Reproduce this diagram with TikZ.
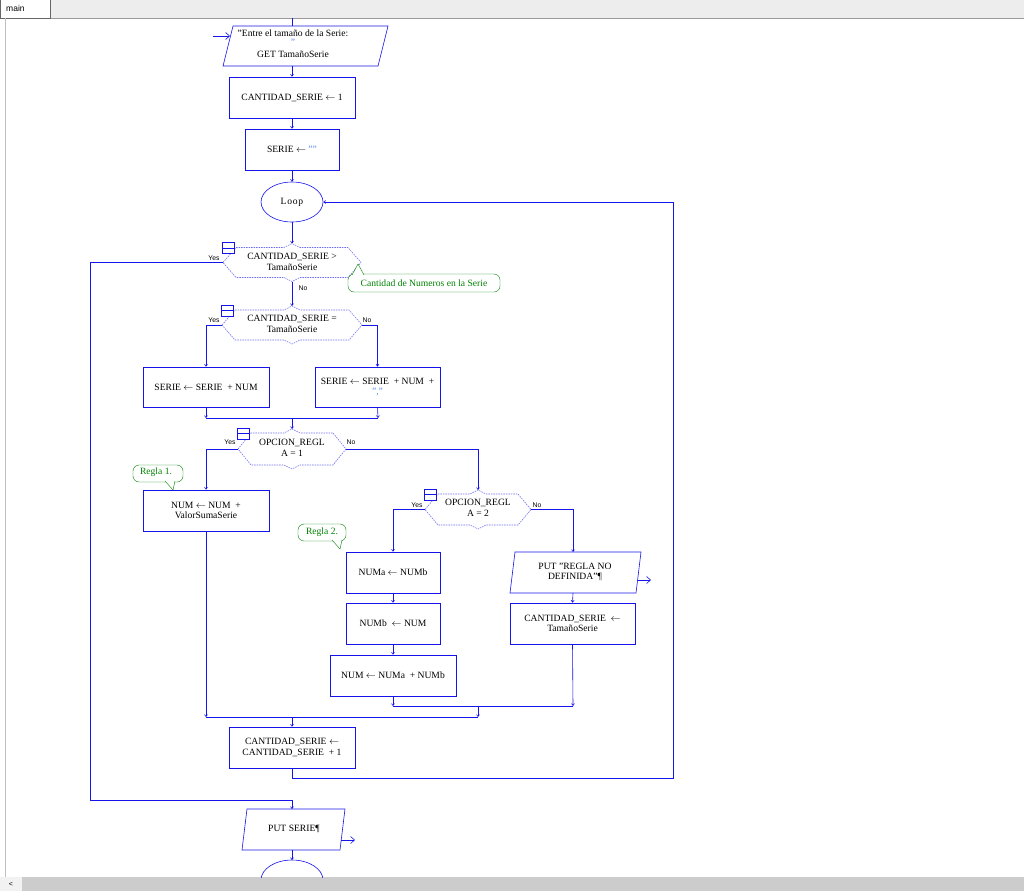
\documentclass[tikz,border=0pt]{standalone}
\usepackage{fontspec}
\setmainfont{Liberation Serif}
\newfontfamily\uisans{Liberation Sans}
\usetikzlibrary{arrows.meta,calc,shapes.geometric}
\definecolor{fl}{RGB}{20,20,235}
\definecolor{fldash}{RGB}{110,110,245}
\definecolor{cmt}{RGB}{0,130,0}
\definecolor{lit}{RGB}{90,140,240}
\tikzset{
  x=1pt,y=-1pt,
  every node/.style={font=\fontsize{9.6}{10.5}\selectfont, align=center, inner sep=0pt},
  box/.style={draw=fl, semithick, fill=white},
  wire/.style={draw=fl, semithick},
  arr/.style={wire, -{Straight Barb[length=2pt,width=3pt]}},
  dec/.style={draw=fldash, semithick, dash pattern=on 1.5pt off 1pt, fill=white},
  yn/.style={font=\uisans\fontsize{6.8}{7}\selectfont, text=black},
  note/.style={draw=cmt, thin, rounded corners=6pt, fill=white},
  icon/.style={draw=fl, thin, fill=white},
}
% hexagon decision: #1 name, #2 center x, #3 center y, #4 half width, #5 half height
\newcommand{\decis}[5]{%
  \draw[dec] (#2-#4,#3) -- (#2-#4+13,#3-#5) -- (#2-8,#3-#5) -- (#2,#3-#5-4) -- (#2+8,#3-#5)
    -- (#2+#4-13,#3-#5) -- (#2+#4,#3) -- (#2+#4-13,#3+#5) -- (#2+8,#3+#5) -- (#2,#3+#5+4)
    -- (#2-8,#3+#5) -- (#2-#4+13,#3+#5) -- cycle;
  \coordinate (#1) at (#2,#3);
  \coordinate (#1-w) at (#2-#4,#3);
  \coordinate (#1-e) at (#2+#4,#3);
  \coordinate (#1-n) at (#2,#3-#5-4);
  \coordinate (#1-s) at (#2,#3+#5+4);
  \draw[icon] (#2-#4-1,#3-#5-5) rectangle (#2-#4+11,#3-#5+6);
  \draw[fl,thin] (#2-#4-1,#3-#5+0.5) -- (#2-#4+11,#3-#5+0.5);}
\begin{document}
\begin{tikzpicture}
\useasboundingbox (0,0) rectangle (1024,891);
% window chrome
\fill[white] (0,0) rectangle (1024,891);
\fill[black!7] (0,0) rectangle (1024,18);
\draw[black!40] (0,18) -- (1024,18);
\draw[black!60, fill=white] (0,-1) rectangle (50,18);
\node[font=\uisans\fontsize{8.5}{9}\selectfont, anchor=west] (tab) at (6,8) {main};
\draw[black!25] (5,18) -- (5,877);
\fill[black!20] (0,877) rectangle (1024,891);
\fill[black!5] (0,877) rectangle (22,891);
\node[font=\uisans\fontsize{7}{8}\selectfont] (sl) at (11,884) {<};

% top input
\draw[box] (233,26) -- (388,26) -- (378,66) -- (223,66) -- cycle;
\node (in) at (293,44) {"Entre el tamaño de la Serie:\\[-2pt] \textcolor{lit}{"}\\[2pt] GET TamañoSerie};
\coordinate (intop) at (292,18);
\coordinate (inb) at (292,66);
\coordinate (inL) at (213,36);
\draw[wire] (intop) -- (292,26);
\draw[wire,-{Straight Barb[length=4pt,width=7pt]}] (inL) -- (230,36);

\node[box, minimum width=126pt, minimum height=41pt] (c1) at (292,97.5) {CANTIDAD\_SERIE $\leftarrow$ 1};
\node[box, minimum width=94pt, minimum height=41pt] (s1) at (292,149.5) {SERIE $\leftarrow$ \textcolor{lit}{""}};
\node[draw=fl, semithick, ellipse, minimum width=62pt, minimum height=40pt, fill=white, font=\fontsize{9.6}{10}\selectfont\addfontfeature{LetterSpace=8}] (loop) at (292,202) {Loop};
\draw[arr] (inb) -- (c1.north);
\draw[arr] (c1.south) -- (s1.north);
\draw[arr] (s1.south) -- (loop.north);

% decision 1
\decis{d1}{292}{262.5}{69}{15}
\node (d1t) at (292,262) {CANTIDAD\_SERIE >\\TamañoSerie};
\draw[arr] (loop.south) -- (d1-n);
\node[yn] (y1) at (214,258) {Yes};
\node[yn] (n1) at (303,288) {No};
\draw[note] (348,274) rectangle (500,292);
\draw[cmt,thin,fill=white] (352,275) -- (358,264) -- (364,275);
\node[text=cmt] (nt1) at (424,283) {Cantidad de Numeros en la Serie};

% decision 2
\decis{d2}{292}{325}{70}{15}
\node (d2t) at (292,324) {CANTIDAD\_SERIE =\\TamañoSerie};
\draw[arr] (d1-s) -- (d2-n);
\node[yn] (y2) at (214,320) {Yes};
\node[yn] (n2) at (367,320) {No};
\node[box, minimum width=126pt, minimum height=40pt] (sa) at (206,387) {SERIE $\leftarrow$ SERIE \ + NUM};
\node[box, minimum width=125pt, minimum height=40pt] (sb) at (377.5,387) {SERIE $\leftarrow$ SERIE \ + NUM \ +\\[-1pt]\textcolor{lit}{","}};
\draw[arr] (d2-w) -| (sa.north);
\draw[arr] (d2-e) -| (sb.north);
\coordinate (m2) at (292,418);
\draw[arr] (sa.south) -- (206,418);
\draw[arr] (sb.south) -- (378,418);
\draw[wire] (206,418) -- (378,418);

% decision 3
\decis{d3}{292}{449}{54}{16}
\node (d3t) at (292,448) {OPCION\_REGL\\A = 1};
\draw[arr] (m2) -- (d3-n);
\node[yn] (y3) at (230,442) {Yes};
\node[yn] (n3) at (351,442) {No};
\node[box, minimum width=126pt, minimum height=41pt] (r1) at (206,510.5) {NUM $\leftarrow$ NUM \ +\\ValorSumaSerie};
\draw[arr] (d3-w) -| (r1.north);
\draw[note] (133,465) rectangle (183,482);
\draw[cmt,thin,fill=white] (165,481) -- (173,490) -- (175,481);
\node[text=cmt] (nt2) at (156,472) {Regla 1.};

% decision 4
\decis{d4}{478}{509.5}{53}{15.5}
\node (d4t) at (478,508) {OPCION\_REGL\\A = 2};
\draw[arr] (d3-e) -| (d4-n);
\node[yn] (y4) at (417,505) {Yes};
\node[yn] (n4) at (537,505) {No};
\node[box, minimum width=94pt, minimum height=41pt] (a1) at (393,572.5) {NUMa $\leftarrow$ NUMb};
\node[box, minimum width=94pt, minimum height=41pt] (a2) at (393,623.5) {NUMb \ $\leftarrow$ NUM};
\node[box, minimum width=126pt, minimum height=41pt] (a3) at (393,675.5) {NUM $\leftarrow$ NUMa \ + NUMb};
\draw[arr] (d4-w) -| (a1.north);
\draw[arr] (a1.south) -- (a2.north);
\draw[arr] (a2.south) -- (a3.north);
\draw[note] (298,524) rectangle (346,541);
\draw[cmt,thin,fill=white] (332,540) -- (340,549) -- (342,540);
\node[text=cmt] (nt3) at (322,532) {Regla 2.};

\draw[box] (515,552) -- (641,552) -- (636,593) -- (510,593) -- cycle;
\node (p1) at (575,572) {PUT "REGLA NO\\DEFINIDA"¶};
\draw[wire,-{Straight Barb[length=4pt,width=7pt]}] (638,580) -- (651,580);
\node[box, minimum width=125pt, minimum height=41pt] (p2) at (572.5,623.5) {CANTIDAD\_SERIE \ $\leftarrow$\\TamañoSerie};
\draw[arr] (d4-e) -| (573,552);
\draw[arr] (573,593) -- (p2.north);

% merges
\draw[arr] (a3.south) -- (393,706);
\draw[arr] (p2.south) -- (573,706);
\draw[wire] (393,706) -- (573,706);
\draw[arr] (478,706) -- (478,717);
\draw[arr] (r1.south) -- (206,717);
\draw[wire] (206,717) -- (478,717);
\node[box, minimum width=126pt, minimum height=41pt] (inc) at (292,747.5) {CANTIDAD\_SERIE $\leftarrow$\\CANTIDAD\_SERIE \ + 1};
\draw[arr] (292,717) -- (inc.north);
\coordinate (back) at (673,778);
\draw[arr] (inc.south) -- (292,778) -- (back) |- (loop.east);

% exit
\draw[box] (247,809) -- (345,809) -- (340,850) -- (242,850) -- cycle;
\node (out) at (294,829) {PUT SERIE¶};
\draw[arr] (d1-w) -- (90,262.5) |- (292,800) -- (292,809);
\draw[wire,-{Straight Barb[length=4pt,width=7pt]}] (341,840) -- (355,840);
\begin{scope}
\clip (0,0) rectangle (1024,877);
\node[draw=fl, semithick, ellipse, minimum width=62pt, minimum height=40pt] (fin) at (292,880) {};
\end{scope}
\draw[arr] (292,850) -- (292,860);
\end{tikzpicture}
\end{document}
